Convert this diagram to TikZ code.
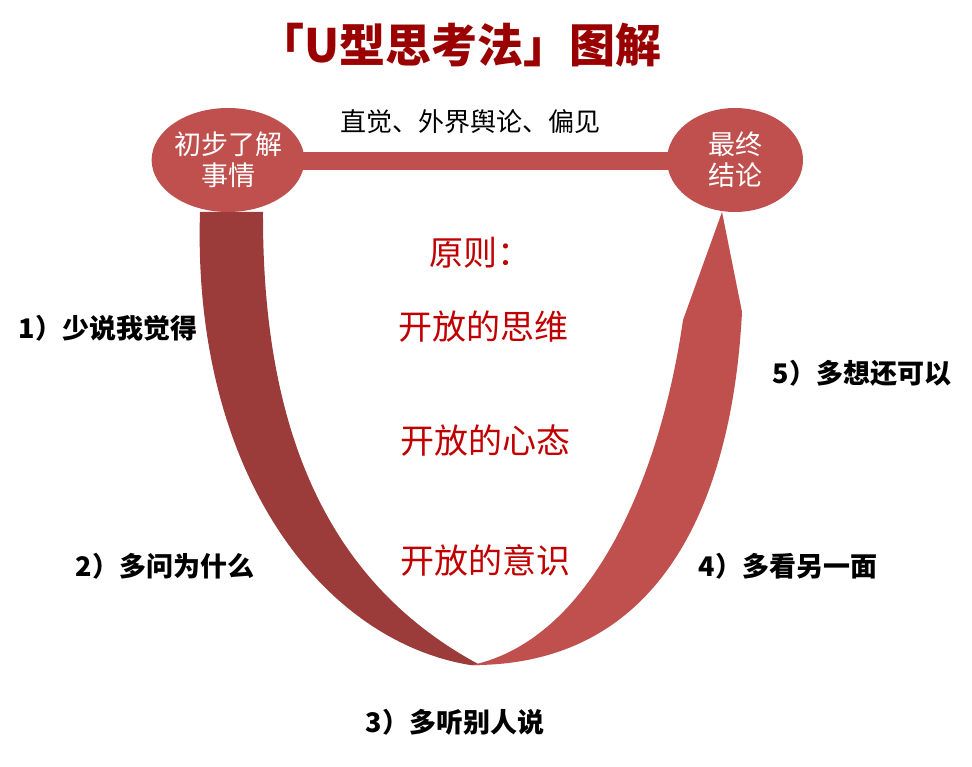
\documentclass[tikz,border=0pt]{standalone}
\usepackage{fontspec}
\setmainfont{Noto Sans CJK SC}
\usepackage{tikz}
\usetikzlibrary{positioning,shadows,shapes.geometric}
\definecolor{RibDark}{HTML}{9B3B3A}
\definecolor{RibLight}{HTML}{C0504D}
\definecolor{TextRed}{HTML}{C00000}
\begin{document}
\begin{tikzpicture}[x=1pt,y=-1pt,
        bubble/.style={ellipse, fill=RibLight, minimum width=136pt, minimum height=104pt, inner sep=0pt, align=center, text=white, font=\fontsize{27}{31}\selectfont},
        tip/.style={font=\bfseries\fontsize{27}{31}\selectfont},
        rule/.style={text=TextRed, font=\fontsize{34}{38}\selectfont}
    ]
        \useasboundingbox (0,0) rectangle (972,767);
        % Title
        \node[text=TextRed!80!black, font=\bfseries\fontsize{46}{50}\selectfont] (title) at (460,45) {「U型思考法」图解};
        % Ribbons
        \fill[RibDark] (200,212) .. controls (192,470) and (320,640) .. (470,665) -- (480,665) .. controls (340,590) and (262,450) .. (263,212) -- cycle;
        \fill[RibLight] (472,665) .. controls (590,640) and (660,480) .. (683,320) -- (722,212) -- (742,312) .. controls (735,450) and (690,660) .. (480,665) -- cycle;
        % Bar and bubbles
        \fill[RibLight] (280,152) rectangle (680,170);
        \node[bubble] (start) at (228,160) {初步了解\\事情};
        \node[bubble] (final) at (735,160) {最终\\结论};
        \node[font=\fontsize{26}{30}\selectfont] (bias) at (470,122) {直觉、外界舆论、偏见};
        % Principles
        \node[rule] (head) at (480,253) {原则：};
        \node[rule] (r1) at (483,327) {开放的思维};
        \node[rule] (r2) at (485,441) {开放的心态};
        \node[rule] (r3) at (485,560) {开放的意识};
        % Steps
        \node[tip] (s1) at (108,328) {1）少说我觉得};
        \node[tip] (s2) at (165,566) {2）多问为什么};
        \node[tip] (s3) at (455,722) {3）多听别人说};
        \node[tip] (s4) at (788,566) {4）多看另一面};
        \node[tip] (s5) at (862,373) {5）多想还可以};
    \end{tikzpicture}
\end{document}
